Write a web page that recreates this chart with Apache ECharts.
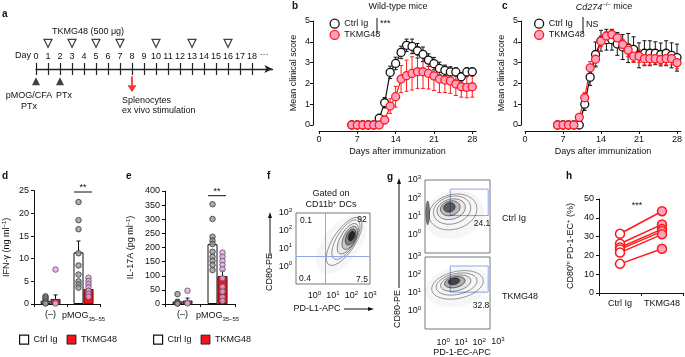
<!DOCTYPE html>
<html>
<head>
<meta charset="utf-8">
<script src="https://cdn.jsdelivr.net/npm/echarts@6/dist/echarts.min.js"></script>
<style>
html, body { margin: 0; background: #fff; }
#main { width: 685px; height: 357px; }
</style>
</head>
<body>
<div id="main"></div>
<script>
// a: treatment schedule
const aDays = [0, 1, 2, 3, 4, 5, 6, 7, 8, 9, 10, 11, 12, 13, 14, 15, 16, 17, 18]
const aTkmgDays = [1, 3, 5, 7, 10, 13, 16]
const aPtxDays = [0, 2]
const aStimDay = [8]

// b/c: clinical score
const scoreDays = [6, 7, 8, 9, 10, 11, 12, 13, 14, 15, 16, 17, 18, 19, 20, 21, 22, 23, 24, 25, 26, 27, 28]
const scoreTicks = [0, 7, 14, 21, 28]
const bCtrl = [0, 0, 0, 0, 0, 0.32, 1.07, 2.53, 2.96, 3.49, 3.83, 3.78, 3.57, 3.4, 3.12, 2.95, 2.72, 2.63, 2.55, 2.55, 2.32, 2.55, 2.56]
const bCtrlSem = [0, 0, 0, 0, 0, 0.2, 0.25, 0.3, 0.3, 0.3, 0.3, 0.35, 0.35, 0.35, 0.3, 0.3, 0.3, 0.25, 0.25, 0.2, 0.2, 0.2, 0.15]
const bTkmg = [0, 0, 0, 0, 0, 0, 0.24, 0.91, 1.36, 2.21, 2.37, 2.48, 2.56, 2.56, 2.48, 2.36, 2.21, 2.16, 2.12, 1.97, 1.84, 1.81, 1.84]
const bTkmgSem = [0, 0, 0, 0, 0, 0, 0.15, 0.35, 0.5, 0.65, 0.75, 0.8, 0.8, 0.8, 0.75, 0.7, 0.65, 0.6, 0.6, 0.55, 0.5, 0.5, 0.5]
const cCtrl = [0, 0, 0, 0, 0, 1.0, 2.3, 3.39, 4.05, 4.1, 4.1, 3.9, 3.75, 3.7, 3.64, 3.35, 3.45, 3.45, 3.45, 3.39, 3.45, 3.35, 3.24]
const cCtrlSem = [0, 0, 0, 0, 0, 0.3, 0.4, 0.6, 0.5, 0.5, 0.5, 0.55, 0.6, 0.7, 0.6, 0.6, 0.6, 0.6, 0.55, 0.55, 0.6, 0.6, 0.65]
const cTkmg = [0, 0, 0, 0, 0.37, 1.31, 2.75, 3.16, 4.03, 4.28, 4.35, 4.19, 3.87, 3.6, 3.31, 3.31, 3.19, 3.19, 3.19, 3.15, 3.19, 3.19, 3.0]
const cTkmgSem = [0, 0, 0, 0, 0.15, 0.25, 0.3, 0.3, 0.25, 0.2, 0.2, 0.2, 0.25, 0.3, 0.3, 0.3, 0.3, 0.3, 0.25, 0.25, 0.3, 0.3, 0.3]

// d/e: cytokines
const stimCats = ['(–)', 'pMOG35–55']
const dCtrlMean = [0.7, 11.4]
const dCtrlSem = [0.3, 2.5]
const dTkmgMean = [1.1, 3.3]
const dTkmgSem = [0.9, 0.7]
const dCtrlDots = [[1.7, 1.4, 1.0, 0.6, 0.3, 0.1], [22.5, 18.5, 16.5, 11.2, 8.5, 6.5, 5.0, 4.3, 3.6]]
const dTkmgDots = [[7.6, 0.3, 0.1], [5.8, 5.1, 4.4, 3.7, 2.9, 2.2, 1.6]]
const eCtrlMean = [9, 212]
const eCtrlSem = [6, 22]
const eTkmgMean = [12, 99]
const eTkmgSem = [9, 20]
const eCtrlDots = [[35, 8, 3, 1], [353, 301, 238, 224, 212, 185, 167, 153, 138, 120]]
const eTkmgDots = [[47, 5, 2], [182, 167, 153, 138, 123, 91, 61, 44, 24, 11]]

// f/g: flow plots (log10 units) -> [cx, cy, rx, ry, angle, fill, stroke]
const fContours = [
    [1.45, 1.25, 1.9, 1.0, 55, 0.035, 0],
    [1.6, 1.4, 1.55, 0.6, 58, 0, 0.7],
    [1.7, 1.5, 1.25, 0.5, 60, 0, 0.7],
    [1.8, 1.55, 0.95, 0.4, 62, 0.05, 0.75],
    [1.9, 1.6, 0.7, 0.32, 65, 0.15, 0.8],
    [1.95, 1.65, 0.48, 0.24, 68, 0.35, 0.85],
    [2.0, 1.7, 0.28, 0.15, 70, 0.7, 0.9]
]
const fQuadX = 0.57
const fQuadY = 0.59
const fQuadPct = ['0.1', '92', '0.4', '7.5']
const gTopContours = [
    [0.6, 1.1, 1.7, 1.3, 15, 0.035, 0],
    [0.55, 1.25, 1.35, 0.95, 15, 0, 0.65],
    [0.5, 1.35, 1.05, 0.75, 15, 0, 0.7],
    [0.45, 1.4, 0.8, 0.55, 15, 0.05, 0.75],
    [0.4, 1.45, 0.55, 0.4, 15, 0.2, 0.85],
    [0.35, 1.5, 0.32, 0.25, 15, 0.5, 0.9],
    [-0.85, 1.2, 0.1, 0.65, 0, 0.5, 0.6]
]
const gBotContours = [
    [0.8, 1.35, 1.8, 1.1, 12, 0.035, 0],
    [0.8, 1.45, 1.45, 0.75, 12, 0, 0.65],
    [0.75, 1.5, 1.15, 0.58, 12, 0, 0.7],
    [0.7, 1.55, 0.85, 0.43, 12, 0.06, 0.75],
    [0.65, 1.6, 0.58, 0.3, 12, 0.25, 0.85],
    [0.6, 1.65, 0.32, 0.18, 12, 0.6, 0.9]
]
const gGate = [[0.4, 1.05], [2.5, 2.5]]
const gPct = ['24.1', '32.8']

// h: paired percentages
const hCats = ['Ctrl Ig', 'TKMG48']
const hCtrl = [31.5, 26.2, 24.2, 23.2, 21.5, 15.5]
const hTkmg = [43.5, 36.5, 34.0, 32.8, 31.2, 23.5]

const FONT = 'Liberation Sans'
const INK = '#111'
const RED = '#ff1a1a'
const PINK = '#ffa3c4'
const BLUE = '#8fa5ee'

const SUP = { fontFamily: FONT, fontSize: 6, color: INK, verticalAlign: 'middle', padding: [0, 0, 6, 0] }
const SUB = { fontFamily: FONT, fontSize: 6, color: INK, verticalAlign: 'middle', padding: [6, 0, 0, 0] }
const BASE = { fontFamily: FONT, fontSize: 9, color: INK, verticalAlign: 'middle' }
const RICH = { b: BASE, s: SUP, u: SUB, i: Object.assign({}, BASE, { fontStyle: 'italic' }) }
const pow10 = v => '{b|10}{s|' + v + '}'
const catFmt = v => v.replace('35–55', '{u|35–55}')
const nameStyle = { fontFamily: FONT, fontSize: 9, color: INK, rich: RICH }
const lbl = o => Object.assign({ fontFamily: FONT, fontSize: 9, color: INK, rich: RICH }, o)
const axLine = { show: true, onZero: false, lineStyle: { color: INK, width: 1 } }
const tick = { show: true, length: 3, lineStyle: { color: INK, width: 1 } }

function errBars(color, dx, upOnly) {
    return function (params, api) {
        const x = api.value(0), m = api.value(1), s = api.value(2)
        if (!s) return null
        const top = api.coord([x, m + s])
        const bot = api.coord([x, upOnly ? m : m - s])
        const X = top[0] + dx
        const st = { stroke: color, lineWidth: 1 }
        const kids = [
            { type: 'line', shape: { x1: X, y1: top[1], x2: X, y2: bot[1] }, style: st },
            { type: 'line', shape: { x1: X - 2, y1: top[1], x2: X + 2, y2: top[1] }, style: st }
        ]
        if (!upOnly) kids.push({ type: 'line', shape: { x1: X - 2, y1: bot[1], x2: X + 2, y2: bot[1] }, style: st })
        return { type: 'group', children: kids }
    }
}

function contourItem(params, api) {
    const cx = api.value(0), cy = api.value(1), rx = api.value(2), ry = api.value(3)
    const a = api.value(4) * Math.PI / 180
    const pts = []
    for (let k = 0; k < 60; k++) {
        const t = k / 60 * Math.PI * 2
        const ex = rx * Math.cos(t), ey = ry * Math.sin(t)
        pts.push(api.coord([cx + ex * Math.cos(a) - ey * Math.sin(a), cy + ex * Math.sin(a) + ey * Math.cos(a)]))
    }
    return {
        type: 'polygon', shape: { points: pts },
        style: { fill: 'rgba(0,0,0,' + api.value(5) + ')', stroke: 'rgba(0,0,0,' + api.value(6) + ')', lineWidth: 0.6 }
    }
}

function gText(x, y, text, o) {
    o = o || {}
    const al = o.align || 'center'
    return {
        type: 'text', x: x, y: y, rotation: o.rot || 0, z: 100,
        style: {
            text: text, fill: o.color || INK, fontFamily: FONT, fontSize: o.size || 9,
            fontWeight: o.bold ? 'bold' : 'normal', fontStyle: o.italic ? 'italic' : 'normal',
            textAlign: al, align: al, textVerticalAlign: 'middle', verticalAlign: 'middle', rich: RICH
        }
    }
}
const gLine = (x1, y1, x2, y2, w) => ({ type: 'line', z: 100, shape: { x1, y1, x2, y2 }, style: { stroke: INK, lineWidth: w || 1 } })
const gPoly = pts => ({ type: 'polygon', z: 100, shape: { points: pts }, style: { fill: INK } })

const scoreAxisX = grid => ({
    gridIndex: grid, type: 'value', min: 0, max: 28.7, offset: 6,
    axisLine: axLine, axisTick: Object.assign({ customValues: scoreTicks }, tick),
    axisLabel: lbl({ customValues: scoreTicks, margin: 4 }), splitLine: { show: false },
    name: 'Days after immunization', nameLocation: 'middle', nameGap: 16, nameTextStyle: nameStyle
})
const scoreAxisY = (grid, off) => ({
    gridIndex: grid, type: 'value', min: 0, max: 5, interval: 1, offset: off,
    axisLine: axLine, axisTick: tick, axisLabel: lbl({ margin: 3 }), splitLine: { show: false },
    name: 'Mean clinical score', nameLocation: 'middle', nameGap: 15, nameRotate: 90, nameTextStyle: nameStyle
})
const logAxis = (grid, max, showLbl, margin) => ({
    gridIndex: grid, type: 'value', min: -1, max: max, interval: 1,
    axisLine: { show: false }, axisTick: { show: false }, splitLine: { show: false },
    axisLabel: lbl({ show: showLbl, formatter: pow10, customValues: [0, 1, 2, 3].filter(v => v <= max), margin: margin })
})

const scoreSeries = (xi, yi, ctrl, ctrlSem, tkmg, tkmgSem) => [
    { type: 'custom', xAxisIndex: xi, yAxisIndex: yi, renderItem: errBars(INK, 0, false), data: scoreDays.map((d, i) => [d, ctrl[i], ctrlSem[i]]) },
    {
        name: 'Ctrl Ig', type: 'line', xAxisIndex: xi, yAxisIndex: yi, symbol: 'circle', symbolSize: 8,
        lineStyle: { color: INK, width: 1.2 }, itemStyle: { color: '#fff', borderColor: INK, borderWidth: 1.3 },
        data: scoreDays.map((d, i) => [d, ctrl[i]])
    },
    { type: 'custom', xAxisIndex: xi, yAxisIndex: yi, renderItem: errBars(RED, 0, false), data: scoreDays.map((d, i) => [d, tkmg[i], tkmgSem[i]]) },
    {
        name: 'TKMG48', type: 'line', xAxisIndex: xi, yAxisIndex: yi, symbol: 'circle', symbolSize: 8,
        lineStyle: { color: RED, width: 1.2 }, itemStyle: { color: PINK, borderColor: RED, borderWidth: 1.3 },
        data: scoreDays.map((d, i) => [d, tkmg[i]])
    }
]

const cytoSeries = (xi, yi, cMean, cSem, tMean, tSem, cDots, tDots) => [
    { name: 'Ctrl Ig', type: 'bar', xAxisIndex: xi, yAxisIndex: yi, barWidth: 10, barGap: '0%', z: 2, itemStyle: { color: '#fff', borderColor: INK, borderWidth: 1 }, data: cMean },
    { name: 'TKMG48', type: 'bar', xAxisIndex: xi, yAxisIndex: yi, barWidth: 10, barGap: '0%', z: 2, itemStyle: { color: '#f3131b', borderColor: INK, borderWidth: 0.8 }, data: tMean },
    { type: 'custom', xAxisIndex: xi, yAxisIndex: yi, z: 3, renderItem: errBars(INK, -5, true), data: cMean.map((m, i) => [i, m, cSem[i]]) },
    { type: 'custom', xAxisIndex: xi, yAxisIndex: yi, z: 3, renderItem: errBars(INK, 5, true), data: tMean.map((m, i) => [i, m, tSem[i]]) },
    {
        type: 'scatter', xAxisIndex: xi, yAxisIndex: yi, z: 4, symbolSize: 5.5, symbolOffset: [-5, 0],
        itemStyle: { color: '#9a9a9a', borderColor: '#333', borderWidth: 1 },
        data: cDots.flatMap((arr, i) => arr.map(v => [i, v]))
    },
    {
        type: 'scatter', xAxisIndex: xi, yAxisIndex: yi, z: 4, symbolSize: 5.5, symbolOffset: [5, 0],
        itemStyle: { color: '#eaa4ea', borderColor: '#555', borderWidth: 1 },
        data: tDots.flatMap((arr, i) => arr.map(v => [i, v]))
    }
]

const cytoX = grid => ({
    gridIndex: grid, type: 'category', data: stimCats,
    axisLine: axLine, axisTick: Object.assign({ alignWithLabel: false }, tick),
    axisLabel: lbl({ formatter: catFmt, margin: 6, interval: 0 })
})
const cytoY = (grid, max, step, name, gap) => ({
    gridIndex: grid, type: 'value', min: 0, max: max, interval: step,
    axisLine: axLine, axisTick: tick, axisLabel: lbl({ margin: 5 }), splitLine: { show: false },
    name: name, nameLocation: 'middle', nameGap: gap, nameRotate: 90, nameTextStyle: nameStyle
})

const legendItems = (icon, ctrlStyle, tkmgStyle) => [
    { name: 'Ctrl Ig', icon: icon, itemStyle: ctrlStyle },
    { name: 'TKMG48', icon: icon, itemStyle: tkmgStyle }
]
const legText = { fontFamily: FONT, fontSize: 9, color: INK }
const circLegend = left => ({
    left: left, top: 13.5, orient: 'vertical', itemWidth: 9, itemHeight: 9, itemGap: 1, selectedMode: false,
    textStyle: legText,
    data: legendItems('circle', { color: '#fff', borderColor: INK, borderWidth: 1.3 }, { color: PINK, borderColor: RED, borderWidth: 1.3 })
})
const rectLegend = left => ({
    left: left, top: 329.5, orient: 'horizontal', itemWidth: 9, itemHeight: 9, itemGap: 9, selectedMode: false,
    textStyle: legText,
    data: legendItems('rect', { color: '#fff', borderColor: INK, borderWidth: 1.2 }, { color: '#f3131b', borderColor: INK, borderWidth: 0.8 })
})

const chart = echarts.init(document.getElementById('main'))

chart.setOption({
    animation: false,
    backgroundColor: '#fff',
    textStyle: { fontFamily: FONT },
    grid: [
        { left: 36, top: 69, width: 236.4, height: 1 },
        { left: 36, top: 24, width: 236.4, height: 90 },
        { left: 319, top: 21, width: 157.1, height: 104 },
        { left: 525, top: 21, width: 157.9, height: 104 },
        { left: 31, top: 190.7, width: 69, height: 113.3 },
        { left: 165, top: 191, width: 70, height: 113 },
        { left: 296, top: 213, width: 74, height: 71, show: true, borderColor: '#555', borderWidth: 0.8 },
        { left: 425, top: 180, width: 65, height: 73, show: true, borderColor: '#555', borderWidth: 0.8 },
        { left: 425, top: 257, width: 65, height: 72, show: true, borderColor: '#555', borderWidth: 0.8 },
        { left: 599, top: 199, width: 84, height: 94 }
    ],
    xAxis: [
        {
            gridIndex: 0, type: 'value', min: 0, max: 19.7, position: 'top',
            axisLine: { show: true, onZero: false, symbol: ['none', 'arrow'], symbolSize: [6, 8], lineStyle: { color: '#222', width: 1.4 } },
            axisTick: { show: true, customValues: aDays, length: 6, lineStyle: { color: '#222', width: 1.2 } },
            axisLabel: lbl({ customValues: aDays, margin: 8 }), splitLine: { show: false }
        },
        {
            gridIndex: 0, type: 'value', min: 0, max: 19.7, position: 'bottom',
            axisLine: { show: false, onZero: false },
            axisTick: { show: true, customValues: aDays, length: 5, lineStyle: { color: '#222', width: 1.2 } },
            axisLabel: { show: false }, splitLine: { show: false }
        },
        { gridIndex: 1, type: 'value', min: 0, max: 19.7, show: false },
        scoreAxisX(2),
        scoreAxisX(3),
        cytoX(4),
        cytoX(5),
        logAxis(6, 3, true, 6),
        logAxis(7, 2.6, false, 8),
        logAxis(8, 2.6, true, 8),
        {
            gridIndex: 9, type: 'category', data: hCats,
            axisLine: axLine, axisTick: Object.assign({ alignWithLabel: false }, tick),
            axisLabel: lbl({ margin: 6, interval: 0 })
        }
    ],
    yAxis: [
        { gridIndex: 0, type: 'value', min: 0, max: 1, show: false },
        { gridIndex: 1, type: 'value', min: -5, max: 5, show: false },
        scoreAxisY(2, 6),
        scoreAxisY(3, 4),
        cytoY(4, 25, 5, 'IFN-γ (ng ml{s|–1})', 21),
        cytoY(5, 400, 50, 'IL-17A (pg ml{s|–1})', 28),
        logAxis(6, 3, true, 4),
        logAxis(7, 3, true, 4),
        logAxis(8, 3, true, 4),
        {
            gridIndex: 9, type: 'value', min: 0, max: 50, interval: 10,
            axisLine: axLine, axisTick: tick, axisLabel: lbl({ margin: 5 }), splitLine: { show: false },
            name: 'CD80{s|hi} PD-1-EC{s|+} (%)', nameLocation: 'middle', nameGap: 22, nameRotate: 90, nameTextStyle: nameStyle
        }
    ],
    legend: [circLegend(324.5), circLegend(529), rectLegend(14), rectLegend(148)],
    series: [
        {
            type: 'scatter', xAxisIndex: 2, yAxisIndex: 1, symbol: 'triangle', symbolRotate: 180, symbolSize: 8,
            itemStyle: { color: '#fff', borderColor: INK, borderWidth: 1.2 }, data: aTkmgDays.map(d => [d, 2.85])
        },
        {
            type: 'scatter', xAxisIndex: 2, yAxisIndex: 1, symbol: 'triangle', symbolSize: 8,
            itemStyle: { color: INK }, data: aPtxDays.map(d => [d, -1.35])
        },
        {
            type: 'scatter', xAxisIndex: 2, yAxisIndex: 1, symbol: 'path://M4,0 L6,0 L6,9 L10,9 L5,16 L0,9 L4,9 Z', symbolSize: [9, 16],
            itemStyle: { color: '#ff0000' }, data: aStimDay.map(d => [d, -1.7])
        },
        ...scoreSeries(3, 2, bCtrl, bCtrlSem, bTkmg, bTkmgSem),
        ...scoreSeries(4, 3, cCtrl, cCtrlSem, cTkmg, cTkmgSem),
        ...cytoSeries(5, 4, dCtrlMean, dCtrlSem, dTkmgMean, dTkmgSem, dCtrlDots, dTkmgDots),
        ...cytoSeries(6, 5, eCtrlMean, eCtrlSem, eTkmgMean, eTkmgSem, eCtrlDots, eTkmgDots),
        {
            type: 'custom', xAxisIndex: 7, yAxisIndex: 6, clip: true, renderItem: contourItem, data: fContours,
            markLine: {
                silent: true, symbol: 'none', label: { show: false },
                lineStyle: { color: BLUE, width: 1, type: 'solid' },
                data: [{ xAxis: fQuadX }, { yAxis: fQuadY }]
            }
        },
        {
            type: 'custom', xAxisIndex: 8, yAxisIndex: 7, clip: true, renderItem: contourItem, data: gTopContours,
            markArea: { silent: true, itemStyle: { color: 'rgba(0,0,0,0)', borderColor: BLUE, borderWidth: 1 }, data: [[{ coord: gGate[0] }, { coord: gGate[1] }]] }
        },
        {
            type: 'custom', xAxisIndex: 9, yAxisIndex: 8, clip: true, renderItem: contourItem, data: gBotContours,
            markArea: { silent: true, itemStyle: { color: 'rgba(0,0,0,0)', borderColor: BLUE, borderWidth: 1 }, data: [[{ coord: gGate[0] }, { coord: gGate[1] }]] }
        },
        ...hCtrl.map((v, i) => ({
            type: 'line', xAxisIndex: 10, yAxisIndex: 9, symbol: 'circle', symbolSize: 9,
            lineStyle: { color: RED, width: 1.5 },
            itemStyle: { borderColor: RED, borderWidth: 1.5 },
            data: [{ value: v, itemStyle: { color: '#fff' } }, { value: hTkmg[i], itemStyle: { color: PINK } }]
        }))
    ],
    graphic: {
        elements: [
            // panel letters
            gText(2, 14, 'a', { bold: true, size: 10, align: 'left' }),
            gText(292, 6, 'b', { bold: true, size: 10, align: 'left' }),
            gText(502, 6, 'c', { bold: true, size: 10, align: 'left' }),
            gText(2, 176, 'd', { bold: true, size: 10, align: 'left' }),
            gText(126, 176, 'e', { bold: true, size: 10, align: 'left' }),
            gText(267, 176, 'f', { bold: true, size: 10, align: 'left' }),
            gText(387, 177, 'g', { bold: true, size: 10, align: 'left' }),
            gText(566, 176, 'h', { bold: true, size: 10, align: 'left' }),
            // a
            gText(23, 56, 'Day'),
            gText(264, 55, '···'),
            gText(88, 32, 'TKMG48 (500 μg)'),
            gText(29, 96, 'pMOG/CFA'),
            gText(29, 107, 'PTx'),
            gText(64, 96, 'PTx'),
            gText(122, 101, 'Splenocytes', { align: 'left' }),
            gText(122, 111, 'ex vivo stimulation', { align: 'left' }),
            // b, c
            gText(398, 7, 'Wild-type mice'),
            gLine(377, 18, 377, 33),
            gText(380, 24, '***', { align: 'left' }),
            gText(604, 7, '{i|Cd274}{s|–/–} mice'),
            gLine(583, 17, 583, 33),
            gText(586, 25, 'NS', { align: 'left' }),
            // d, e
            gLine(74, 192, 92, 192),
            gText(83, 188, '**'),
            gLine(208, 195.7, 226, 195.7),
            gText(217, 192, '**'),
            // f
            gText(331, 194, 'Gated on'),
            gText(331, 205, 'CD11b{s|+} DCs'),
            gText(306, 221, fQuadPct[0], { size: 8.5 }),
            gText(362, 220, fQuadPct[1], { size: 8.5 }),
            gText(305, 279, fQuadPct[2], { size: 8.5 }),
            gText(362, 280, fQuadPct[3], { size: 8.5 }),
            gText(270, 272, 'CD80-PE', { rot: Math.PI / 2 }),
            gLine(270, 256, 270, 216),
            gPoly([[270, 212], [268, 218], [272, 218]]),
            gText(317, 309, 'PD-L1-APC'),
            gLine(344, 309, 370, 309),
            gPoly([[374, 309], [368, 307], [368, 311]]),
            // g
            gText(482, 224, gPct[0], { size: 8.5 }),
            gText(481, 306, gPct[1], { size: 8.5 }),
            gText(502, 219, 'Ctrl Ig', { align: 'left' }),
            gText(502, 297, 'TKMG48', { align: 'left' }),
            gText(498, 342, '{b|10}{s|3}'),
            gText(398, 309, 'CD80-PE', { rot: Math.PI / 2 }),
            gLine(399, 288, 399, 183),
            gPoly([[399, 178], [397, 184], [401, 184]]),
            gText(462, 353, 'PD-1-EC-APC'),
            // h
            gText(637, 206, '***')
        ]
    }
})

window.addEventListener('resize', () => chart.resize())
</script>
</body>
</html>
